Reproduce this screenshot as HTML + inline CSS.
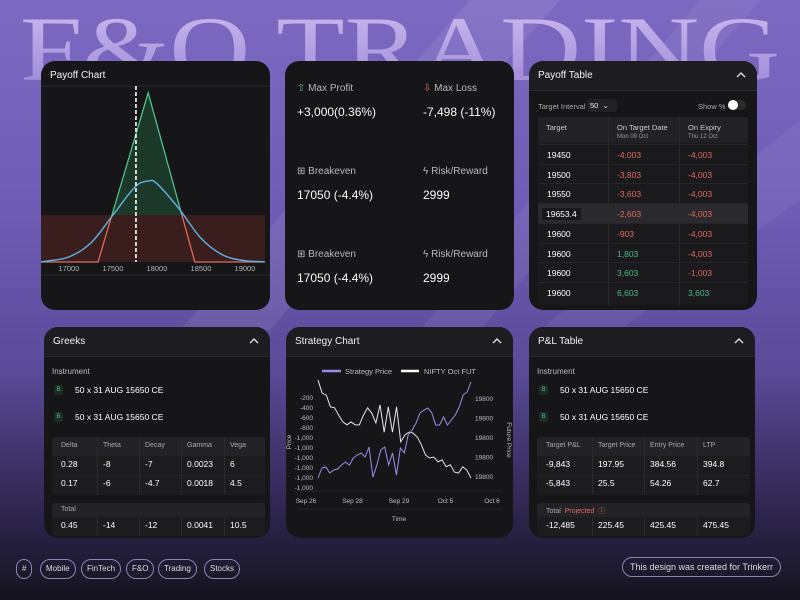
<!DOCTYPE html>
<html><head><meta charset="utf-8">
<style>
*{box-sizing:border-box;margin:0;padding:0}
body{width:800px;height:600px;overflow:hidden;font-family:"Liberation Sans",sans-serif;position:relative;background:linear-gradient(180deg,#7c69c1 0%,#6f5cb6 35%,#5a4a98 62%,#2e2650 85%,#15131e 100%)}
.abs{position:absolute}
.card{position:absolute;background:#161619;border-radius:14px;overflow:hidden;color:#e8e8ea}
.hdr{position:absolute;left:0;right:0;top:0;height:30px;background:#1d1d21;border-bottom:1px solid #2a2a2e}
.ttl{position:absolute;left:9px;top:9px;font-size:10px;color:#f2f2f4}
.chev{position:absolute;right:10px;top:8px;width:12px;height:12px}
.t{position:absolute;white-space:nowrap}
.lbl{font-size:9.5px;color:#b8b8bc}
.val{font-size:12px;color:#fafafa}
.red{color:#e0675e}.grn{color:#4dba84}
.tag{position:absolute;top:559px;height:20px;border:1px solid #8c84b0;border-radius:10px;color:#ddd;font-size:8px;line-height:18px;padding:0 5px}
</style></head><body>
<svg class="abs" style="left:0;top:0" width="800" height="600">
<polygon points="470,0 560,0 270,330 180,330" fill="#ffffff" opacity="0.08"/>
<polygon points="700,0 760,0 480,330 420,330" fill="#ffffff" opacity="0.06"/>
<polygon points="540,330 800,120 800,200 620,330" fill="#ffffff" opacity="0.05"/>
<defs><linearGradient id="tg" x1="0" y1="0" x2="0" y2="1"><stop offset="0" stop-color="#d8c8f6"/><stop offset="1" stop-color="#9b86d8"/></linearGradient></defs>
<text x="400" y="80" text-anchor="middle" textLength="760" lengthAdjust="spacingAndGlyphs" font-family="Liberation Serif" font-size="92" fill="url(#tg)" opacity="0.9">F&amp;O TRADING</text>
</svg>

<!-- Payoff Chart -->
<div class="card" style="left:41px;top:61px;width:229px;height:249px">
<div class="ttl">Payoff Chart</div>
<svg id="payoff" class="abs" style="left:0;top:0" width="229" height="249"></svg>
</div>

<!-- Stats -->
<div class="card" style="left:285px;top:61px;width:229px;height:249px">
<div class="t lbl" style="left:12px;top:22px;font-size:10px"><span class="grn">⇧</span> Max Profit</div>
<div class="t val" style="left:12px;top:44px">+3,000(0.36%)</div>
<div class="t lbl" style="left:138px;top:22px;font-size:10px"><span class="red">⇩</span> Max Loss</div>
<div class="t val" style="left:138px;top:44px">-7,498 (-11%)</div>
<div class="t lbl" style="left:12px;top:105px;font-size:10px">⊞ Breakeven</div>
<div class="t val" style="left:12px;top:127px">17050 (-4.4%)</div>
<div class="t lbl" style="left:138px;top:105px;font-size:10px">ϟ Risk/Reward</div>
<div class="t val" style="left:138px;top:127px">2999</div>
<div class="t lbl" style="left:12px;top:188px;font-size:10px">⊞ Breakeven</div>
<div class="t val" style="left:12px;top:210px">17050 (-4.4%)</div>
<div class="t lbl" style="left:138px;top:188px;font-size:10px">ϟ Risk/Reward</div>
<div class="t val" style="left:138px;top:210px">2999</div>
</div>

<!-- Payoff Table -->
<div class="card" style="left:529px;top:61px;width:228px;height:249px">
<div class="hdr"></div>
<div class="ttl">Payoff Table</div>
<svg class="chev" viewBox="0 0 12 12"><path d="M2 8 L6 4 L10 8" stroke="#ddd" stroke-width="1.4" fill="none"/></svg>
<div class="t" style="left:9px;top:41px;font-size:7.5px;color:#aaa">Target Interval</div>
<div class="t" style="left:58px;top:38px;width:30px;height:13px;background:#222226;border-radius:3px;font-size:7.5px;color:#eee;padding:2px 3px">50 &nbsp;⌄</div>
<div class="t" style="left:169px;top:41px;font-size:7.5px;color:#aaa">Show %</div>
<div class="t" style="left:199px;top:39px;width:18px;height:10px;background:#2c2c30;border-radius:5px"><div style="position:absolute;left:0;top:0;width:10px;height:10px;border-radius:5px;background:#fff"></div></div>
<div id="ptable" class="abs" style="left:9px;top:56px;width:210px;height:188px;background:#1a1a1d;border-radius:4px"></div>
</div>

<!-- Greeks -->
<div class="card" style="left:44px;top:327px;width:226px;height:211px">
<div class="hdr"></div>
<div class="ttl">Greeks</div>
<svg class="chev" viewBox="0 0 12 12"><path d="M2 8 L6 4 L10 8" stroke="#ddd" stroke-width="1.4" fill="none"/></svg>
<div id="greeks" class="abs" style="left:0;top:0;width:226px;height:211px"></div>
</div>

<!-- Strategy chart -->
<div class="card" style="left:286px;top:327px;width:227px;height:211px">
<div class="hdr"></div>
<div class="ttl">Strategy Chart</div>
<svg class="chev" viewBox="0 0 12 12"><path d="M2 8 L6 4 L10 8" stroke="#ddd" stroke-width="1.4" fill="none"/></svg>
</div>
<svg id="strat" class="abs" style="left:0;top:0" width="800" height="600"></svg>

<!-- P&L -->
<div class="card" style="left:529px;top:327px;width:226px;height:211px">
<div class="hdr"></div>
<div class="ttl">P&amp;L Table</div>
<svg class="chev" viewBox="0 0 12 12"><path d="M2 8 L6 4 L10 8" stroke="#ddd" stroke-width="1.4" fill="none"/></svg>
<div id="pnl" class="abs" style="left:0;top:0;width:226px;height:211px"></div>
</div>

<!-- footer -->
<div class="tag" style="left:16px;padding:0 5px">#</div>
<div class="tag" style="left:40px">Mobile</div>
<div class="tag" style="left:81px">FinTech</div>
<div class="tag" style="left:126px">F&amp;O</div>
<div class="tag" style="left:158px">Trading</div>
<div class="tag" style="left:204px">Stocks</div>
<div class="tag" style="left:622px;top:557px;font-size:9px;padding:0 7px">This design was created for Trinkerr</div>

<script>
const NS='http://www.w3.org/2000/svg';
function el(p,tag,a,txt){const e=document.createElementNS(NS,tag);for(const k in a)e.setAttribute(k,a[k]);if(txt!==undefined)e.textContent=txt;p.appendChild(e);return e;}

// ---- Payoff chart data ----
const payoffX=[16682,17330,17900,18430,19227];
const payoffY=[-1000,-1000,2600,-1000,-1000];
const curveX=[16682,16750,17000,17250,17500,17750,17900,18000,18250,18500,18750,19000,19227];
const curveY=[-995,-981,-891,-592,0,596,723,666,134,-495,-853,-972,-995];
const payoffTicks=[17000,17500,18000,18500,19000];
const spotPrice=17761;
(function(){
 const s=document.getElementById('payoff');
 const X=v=>(v-16682)*0.088, Y=v=>154-v*0.047;
 el(s,'line',{x1:0,x2:229,y1:25,y2:25,stroke:'#2a2a2e'});
 el(s,'line',{x1:0,x2:229,y1:214,y2:214,stroke:'#2a2a2e'});
 const r=el(s,'rect',{x:0,y:Y(0),width:224,height:Y(-1000)-Y(0),fill:'#5a2420',opacity:0.55});
 
 let pts=[];for(let i=0;i<payoffX.length;i++)pts.push([X(payoffX[i]),Y(payoffY[i])]);
 const zx1=payoffX[1]+(payoffX[2]-payoffX[1])*(0-payoffY[1])/(payoffY[2]-payoffY[1]);
 const zx2=payoffX[2]+(payoffX[3]-payoffX[2])*(0-payoffY[2])/(payoffY[3]-payoffY[2]);
 const g=el(s,'polygon',{points:`${X(zx1)},${Y(0)} ${X(payoffX[2])},${Y(payoffY[2])} ${X(zx2)},${Y(0)}`,fill:'#1f5a3a',opacity:0.5});
 
 const pl=el(s,'polyline',{points:`${pts[0].join(',')} ${pts[1].join(',')} ${X(zx1)},${Y(0)}`,fill:'none',stroke:'#e06a5e','stroke-width':1.3});
 
 const pg=el(s,'polyline',{points:`${X(zx1)},${Y(0)} ${pts[2].join(',')} ${X(zx2)},${Y(0)}`,fill:'none',stroke:'#4fc28a','stroke-width':1.3});
 
 const pr=el(s,'polyline',{points:`${X(zx2)},${Y(0)} ${pts[3].join(',')} ${pts[4].join(',')}`,fill:'none',stroke:'#e06a5e','stroke-width':1.3});
 
 const P=curveX.map((x,i)=>[X(x),Y(curveY[i])]);
 let d='M'+P[0].join(',');
 for(let i=0;i<P.length-1;i++){const p0=P[i-1]||P[i],p1=P[i],p2=P[i+1],p3=P[i+2]||p2;
  d+=` C${p1[0]+(p2[0]-p0[0])/6},${p1[1]+(p2[1]-p0[1])/6} ${p2[0]-(p3[0]-p1[0])/6},${p2[1]-(p3[1]-p1[1])/6} ${p2[0]},${p2[1]}`;}
 const c=el(s,'path',{d:d,fill:'none',stroke:'#5fb3e6','stroke-width':1.4});
 
 const sl=el(s,'line',{x1:X(spotPrice),x2:X(spotPrice),y1:25,y2:201,stroke:'#fff','stroke-width':1.6,'stroke-dasharray':'4,2'});
 
 payoffTicks.forEach(v=>{const t=el(s,'text',{x:X(v),y:210,'text-anchor':'middle','font-size':7.5,fill:'#b5b5b9','font-family':'Liberation Sans'},v);
  });
})();

// ---- Payoff table ----
const ptTargets=['19450','19500','19550','19653.4','19600','19600','19600','19600'];
const ptTarget=['-4,003','-3,803','-3,603','-2,603','-903','1,803','3,603','6,603'];
const ptExpiry=['-4,003','-4,003','-4,003','-4,003','-4,003','-4,003','-1,003','3,603'];
(function(){
 const t=document.getElementById('ptable');
 let h=`<div style="position:absolute;left:0;top:0;width:210px;height:26px;background:#222226"></div>
 <div class="t" style="left:8px;top:6px;font-size:7.5px;color:#ccc">Target</div>
 <div class="t" style="left:79px;top:6px;font-size:7.5px;color:#ccc">On Target Date<div style="font-size:6px;color:#999;margin-top:2px">Mon 09 Oct</div></div>
 <div class="t" style="left:150px;top:6px;font-size:7.5px;color:#ccc">On Expiry<div style="font-size:6px;color:#999;margin-top:2px">Thu 12 Oct</div></div>
 <div style="position:absolute;left:70px;top:0;width:1px;height:188px;background:#2a2a2e"></div>
 <div style="position:absolute;left:141px;top:0;width:1px;height:188px;background:#2a2a2e"></div>`;
 t.innerHTML=h;
 ptTargets.forEach((v,i)=>{
  const r=document.createElement('div');
  
  
  r.style.cssText=`position:absolute;left:0;top:${27+i*19.7}px;width:210px;height:19.7px;border-top:1px solid #26262a;${i==3?'background:#2a2a2e;':''}font-size:8.5px`;
  const c=x=>x.startsWith('-')?'#e0675e':'#4dba84';
  r.innerHTML=`<span class="t" style="left:${i==3?4:9}px;top:5px;color:#fff;${i==3?'background:#18181b;padding:1px 4px;top:4px;':''}">${v}</span><span class="t" style="left:79px;top:5px;color:${c(ptTarget[i])}">${ptTarget[i]}</span><span class="t" style="left:150px;top:5px;color:${c(ptExpiry[i])}">${ptExpiry[i]}</span>`;
  t.appendChild(r);
 });
})();

// ---- Greeks & P&L tables ----
function buildTable(id,cols,colX,rows,total,projected){
 const c=document.getElementById(id);
 let h=`<div class="t" style="left:8px;top:40px;font-size:8px;color:#bbb">Instrument</div>
 <div class="t" style="left:10px;top:58px;width:9px;height:10px;font-size:6.5px;color:#4dba84;background:#1c2b23;text-align:center;line-height:10px;border-radius:2px">B</div>
 <div class="t" style="left:31px;top:58px;font-size:8.5px;color:#fff">50 x 31 AUG 15650 CE</div>
 <div class="t" style="left:10px;top:85px;width:9px;height:10px;font-size:6.5px;color:#4dba84;background:#1c2b23;text-align:center;line-height:10px;border-radius:2px">B</div>
 <div class="t" style="left:31px;top:85px;font-size:8.5px;color:#fff">50 x 31 AUG 15650 CE</div>
 <div class="t" style="left:8px;top:110px;width:213px;height:58px;background:#1c1c1f;border-radius:3px"></div>
 <div class="t" style="left:8px;top:110px;width:213px;height:19px;background:#232327;border-radius:3px 3px 0 0"></div>
 <div class="t" style="left:8px;top:148px;width:213px;height:1px;background:#26262a"></div>
 <div class="t" style="left:8px;top:176px;width:213px;height:33px;background:#1c1c1f;border-radius:3px"></div>
 <div class="t" style="left:8px;top:176px;width:213px;height:14px;background:#232327;border-radius:3px 3px 0 0"></div>
 <div class="t" style="left:17px;top:179px;font-size:7px;color:#aaa">Total${projected?' &nbsp;<span style="color:#e0675e">Projected</span> &nbsp;<span style="color:#e0675e">ⓘ</span>':''}</div>`;
 for(let i=1;i<colX.length;i++)h+=`<div class="t" style="left:${colX[i]-6}px;top:110px;width:1px;height:58px;background:#2a2a2e"></div><div class="t" style="left:${colX[i]-6}px;top:190px;width:1px;height:19px;background:#2a2a2e"></div>`;
 cols.forEach((n,i)=>h+=`<div class="t" style="left:${colX[i]}px;top:115px;font-size:7px;color:#aaa">${n}</div>`);
 rows.forEach((r,j)=>r.forEach((v,i)=>h+=`<div class="t" style="left:${colX[i]}px;top:${132+j*19}px;font-size:8.5px;color:#fff">${v}</div>`));
 total.forEach((v,i)=>h+=`<div class="t" style="left:${colX[i]}px;top:193px;font-size:8.5px;color:#fff">${v}</div>`);
 c.innerHTML=h;
}
const greekCols=['Delta','Theta','Decay','Gamma','Vega'];
const greekRow1=['0.28','-8','-7','0.0023','6'];
const greekRow2=['0.17','-6','-4.7','0.0018','4.5'];
const greekTotal=['0.45','-14','-12','0.0041','10.5'];
buildTable('greeks',greekCols,[17,59,101,143,186],[greekRow1,greekRow2],greekTotal,false);
const pnlCols=['Target P&L','Target Price','Entry Price','LTP'];
const pnlRow1=['-9,843','197.95','384.56','394.8'];
const pnlRow2=['-5,843','25.5','54.26','62.7'];
const pnlTotal=['-12,485','225.45','425.45','475.45'];
buildTable('pnl',pnlCols,[17,69,121,174],[pnlRow1,pnlRow2],pnlTotal,true);

// ---- Strategy chart ----
const strategyPrice=[-1800,-1600,-1580,-1700,-1640,-1620,-1540,-1480,-1540,-1400,-1340,-1300,-1380,-1180,-1780,-1540,-1240,-1180,-1540,-1300,-1740,-1200,-1300,-940,-840,-700,-500,-440,-400,-500,-740,-740,-580,-740,-640,-540,-380,-140,-80,120];
const niftyFut=[19939,19912,19908,19884,19882,19867,19853,19847,19853,19847,19847,19867,19882,19871,19851,19888,19832,19884,19832,19884,19812,19826,19832,19830,19822,19806,19785,19779,19781,19771,19775,19761,19765,19750,19748,19761,19754,19738];
const leftTicks=[-200,-400,-600,-800,-1000,-1200,-1400,-1600,-1800,-2000];
const leftTickLabels=['-200','-400','-600','-800','-1,000','-1,000','-1,000','-1,000','-1,000','-1,000'];
const rightTicks=[19900,19860,19820,19780,19740];
const rightTickLabels=['19800','19800','19800','19800','19800'];
const timeLabels=['Sep 26','Sep 28','Sep 29','Oct 5','Oct 6'];
(function(){
 const s=document.getElementById('strat');
 const YL=v=>398+(-200-v)/20, YR=v=>399+(19900-v)*0.4875;
 const X0=318,X1=471;
 const F={'font-family':'Liberation Sans','font-size':6.5,fill:'#bdbdc1'};
 leftTicks.forEach((v,i)=>{const t=el(s,'text',Object.assign({x:313,y:YL(v)+2,'text-anchor':'end'},F),leftTickLabels[i]);});
 rightTicks.forEach((v,i)=>{const t=el(s,'text',Object.assign({x:475,y:YR(v)+2},F),rightTickLabels[i]);});
 timeLabels.forEach((v,i)=>{const t=el(s,'text',Object.assign({x:306+i*46.5,y:503,'text-anchor':'middle'},F),v);});
 el(s,'line',{x1:298,x2:502,y1:491,y2:491,stroke:'#26262a'});
 el(s,'line',{x1:298,x2:502,y1:509,y2:509,stroke:'#26262a'});
 const xt=el(s,'text',Object.assign({x:399,y:521,'text-anchor':'middle'},F),'Time');
 const yt=el(s,'text',Object.assign({x:0,y:0,'text-anchor':'middle',transform:'translate(291,442) rotate(-90)','font-size':5.5},F),'Price');
 const yr=el(s,'text',Object.assign({x:0,y:0,'text-anchor':'middle',transform:'translate(507,440) rotate(90)','font-size':5.5},F),'Future Price');
 const line=(arr,Y,col,name)=>{const n=arr.length;const p=arr.map((v,i)=>`${X0+(X1-X0)*i/(n-1)},${Y(v)}`).join(' ');
  const l=el(s,'polyline',{points:p,fill:'none',stroke:col,'stroke-width':1});};
 line(niftyFut,YR,'#e6e6e6','nifty-line');
 line(strategyPrice,YL,'#9b8cec','strategy-line');
 el(s,'line',{x1:322,x2:341,y1:371,y2:371,stroke:'#9a8ae8','stroke-width':2.5});
 const l1=el(s,'text',Object.assign({x:345,y:374},F,{'font-size':7.5}),'Strategy Price');
 el(s,'line',{x1:401,x2:419,y1:371,y2:371,stroke:'#fff','stroke-width':2.5});
 const l2=el(s,'text',Object.assign({x:424,y:374},F,{'font-size':7.5}),'NIFTY Oct FUT');
})();
</script>
</body></html>
